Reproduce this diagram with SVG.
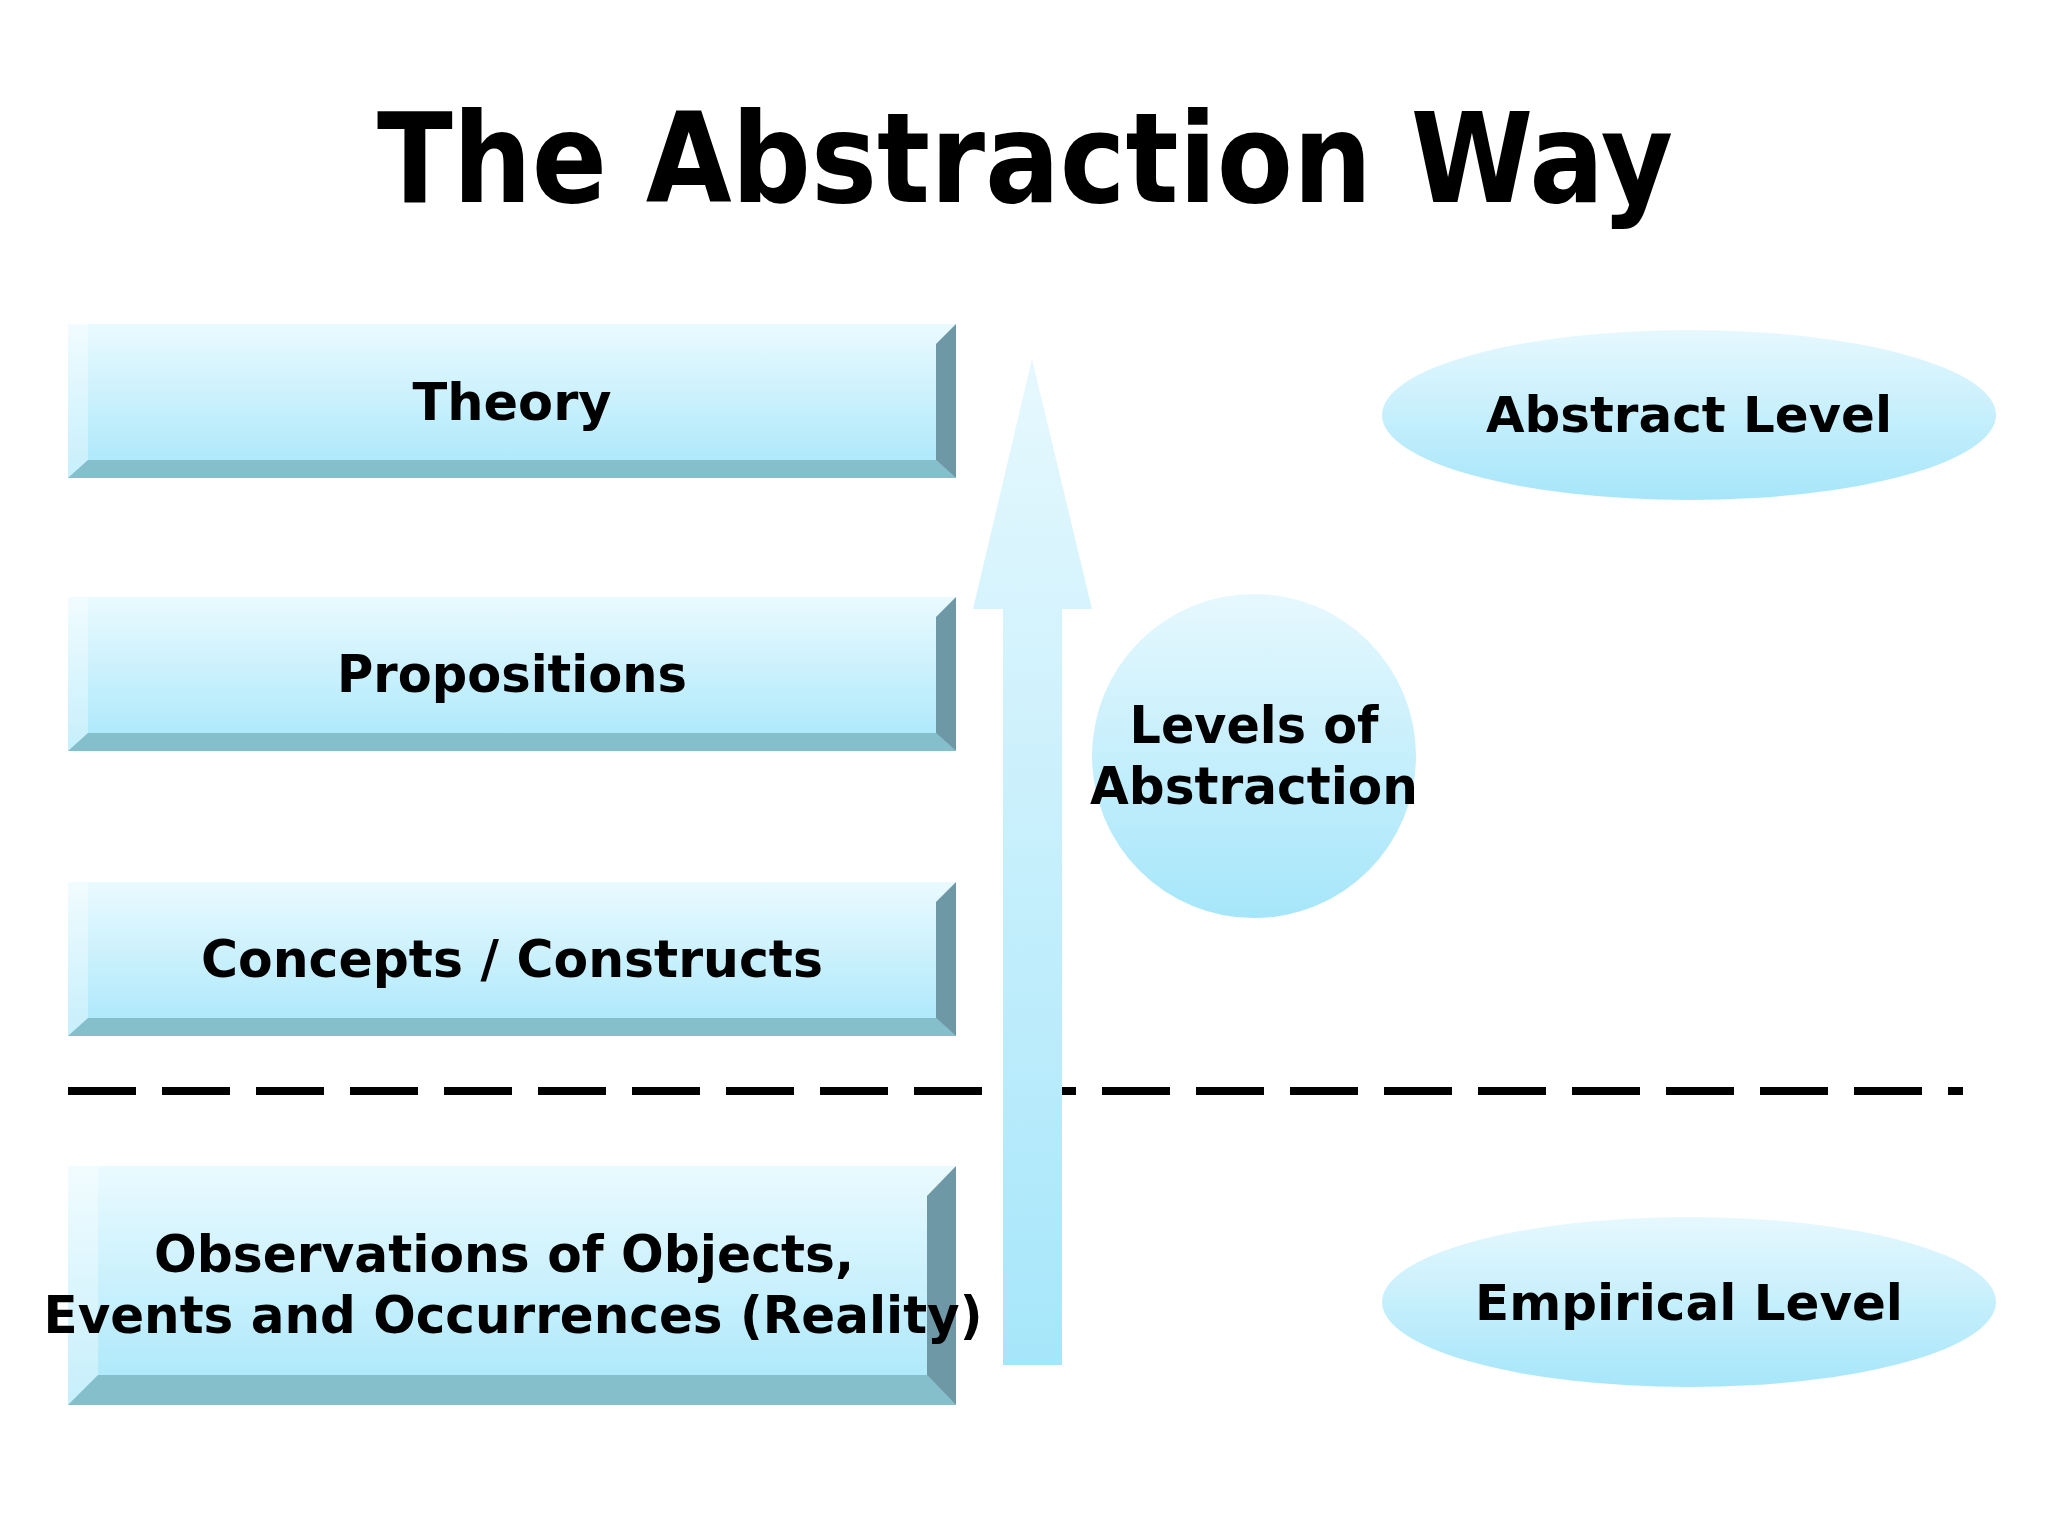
<svg xmlns="http://www.w3.org/2000/svg" width="2048" height="1536" viewBox="0 0 2048 1536">
<defs>
<linearGradient id="bg" x1="0" y1="0" x2="0" y2="1"><stop offset="0" stop-color="#eafaff"/><stop offset="1" stop-color="#a8e7fa"/></linearGradient>
<linearGradient id="ag" x1="0" y1="0" x2="0" y2="1"><stop offset="0" stop-color="#e6f8fe"/><stop offset="1" stop-color="#a6e6fa"/></linearGradient>
<style>
.t{font-family:"DejaVu Sans","Liberation Sans",sans-serif;font-weight:bold;fill:#000;text-anchor:middle}
.bot{fill:#86bfcc}.rt{fill:#6f98a6}.lf{fill:#ffffff;opacity:0.35}
</style>
</defs>
<rect width="2048" height="1536" fill="#fff"/>
<text class="t" x="1025" y="202" font-size="124" textLength="1296" lengthAdjust="spacingAndGlyphs">The Abstraction Way</text>
<g id="connectors">
<line x1="68" y1="1091" x2="1963" y2="1091" stroke="#000" stroke-width="8" stroke-dasharray="68 26"/>
<path d="M1032 359 L1092 609 L1062 609 L1062 1365 L1003 1365 L1003 609 L973 609 Z" fill="url(#ag)"/>
</g>
<g id="theory">
<rect x="68" y="324" width="888" height="154" fill="url(#bg)"/>
<path d="M68 324 L88 324 L88 460 L68 478Z" class="lf"/>
<path d="M68 478 L88 460 L936 460 L956 478Z" class="bot"/>
<path d="M956 324 L936 344 L936 460 L956 478Z" class="rt"/>
<text class="t" x="512" y="420" font-size="52" textLength="199" lengthAdjust="spacingAndGlyphs">Theory</text>
</g>
<g id="propositions">
<rect x="68" y="597" width="888" height="154" fill="url(#bg)"/>
<path d="M68 597 L88 597 L88 733 L68 751Z" class="lf"/>
<path d="M68 751 L88 733 L936 733 L956 751Z" class="bot"/>
<path d="M956 597 L936 617 L936 733 L956 751Z" class="rt"/>
<text class="t" x="512" y="692" font-size="52" textLength="350" lengthAdjust="spacingAndGlyphs">Propositions</text>
</g>
<g id="concepts">
<rect x="68" y="882" width="888" height="154" fill="url(#bg)"/>
<path d="M68 882 L88 882 L88 1018 L68 1036Z" class="lf"/>
<path d="M68 1036 L88 1018 L936 1018 L956 1036Z" class="bot"/>
<path d="M956 882 L936 902 L936 1018 L956 1036Z" class="rt"/>
<text class="t" x="512" y="977" font-size="52" textLength="622" lengthAdjust="spacingAndGlyphs">Concepts / Constructs</text>
</g>
<g id="observations">
<rect x="68" y="1166" width="888" height="239" fill="url(#bg)"/>
<path d="M68 1166 L98 1166 L98 1375 L68 1405Z" class="lf"/>
<path d="M68 1405 L98 1375 L927 1375 L956 1405Z" class="bot"/>
<path d="M956 1166 L927 1196 L927 1375 L956 1405Z" class="rt"/>
<text class="t" x="504" y="1272" font-size="52" textLength="700" lengthAdjust="spacingAndGlyphs">Observations of Objects,</text>
<text class="t" x="513" y="1333" font-size="52" textLength="939" lengthAdjust="spacingAndGlyphs">Events and Occurrences (Reality)</text>
</g>
<g id="levels">
<circle cx="1254" cy="756" r="162" fill="url(#ag)"/>
<text class="t" x="1254" y="743" font-size="52" textLength="249" lengthAdjust="spacingAndGlyphs">Levels of</text>
<text class="t" x="1254" y="804" font-size="52" textLength="328" lengthAdjust="spacingAndGlyphs">Abstraction</text>
</g>
<g id="abstract">
<ellipse cx="1689" cy="415" rx="307" ry="85" fill="url(#ag)"/>
<text class="t" x="1689" y="432" font-size="50" textLength="406" lengthAdjust="spacingAndGlyphs">Abstract Level</text>
</g>
<g id="empirical">
<ellipse cx="1689" cy="1302" rx="307" ry="85" fill="url(#ag)"/>
<text class="t" x="1689" y="1320" font-size="50" textLength="428" lengthAdjust="spacingAndGlyphs">Empirical Level</text>
</g>
</svg>
